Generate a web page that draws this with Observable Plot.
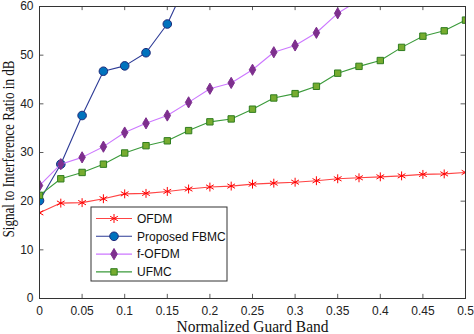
<!DOCTYPE html>
<html>
<head>
<meta charset="utf-8">
<script src="https://cdn.jsdelivr.net/npm/d3@7"></script>
<script src="https://cdn.jsdelivr.net/npm/@observablehq/plot@0.6"></script>
<style>
  html, body { margin: 0; padding: 0; background: #fff; }
  #chart svg { display: block; }
</style>
</head>
<body>
<div id="chart"></div>
<script>
const guardBand = [0, 0.025, 0.05, 0.075, 0.1, 0.125, 0.15, 0.175, 0.2, 0.225, 0.25,
                   0.275, 0.3, 0.325, 0.35, 0.375, 0.4, 0.425, 0.45, 0.475, 0.5];
const ofdm  = [17.6, 19.6, 19.7, 20.5, 21.5, 21.6, 22.0, 22.5, 22.9, 23.1, 23.5,
               23.7, 23.9, 24.2, 24.6, 24.8, 25.0, 25.2, 25.5, 25.6, 25.9];
const fbmc  = [20.1, 27.6, 37.6, 46.7, 47.8, 50.5, 56.4, 65.8];
const fofdm = [23.2, 27.6, 29.0, 31.2, 34.1, 36.0, 37.6, 40.3, 43.1, 44.3, 47.0,
               50.6, 52.0, 54.6, 58.6, 61.3];
const ufmc  = [21.2, 24.6, 25.9, 27.6, 29.9, 31.4, 32.4, 34.5, 36.3, 36.9, 38.9,
               41.2, 42.1, 43.6, 46.3, 47.7, 48.9, 51.6, 53.9, 55.0, 57.2];
const seriesNames = ["OFDM", "Proposed FBMC", "f-OFDM", "UFMC"];
const xTicks = [0, 0.05, 0.1, 0.15, 0.2, 0.25, 0.3, 0.35, 0.4, 0.45, 0.5];
const yTicks = [0, 10, 20, 30, 40, 50, 60];
const xLabel = "Normalized Guard Band";
const yLabel = "Signal to Interference Ratio in dB";

const styles = {
  "OFDM":          {line: "#ff4444", symbol: "asterisk", fill: "none",    stroke: "#ff0000", r: 4.2},
  "Proposed FBMC": {line: "#2d3b96", symbol: "circle",   fill: "#0072bd", stroke: "#1f2b7a", r: 4.3},
  "f-OFDM":        {line: "#cc77ff", symbol: "diamond",  fill: "#7e2f8e", stroke: "#7e2f8e", r: 3.4},
  "UFMC":          {line: "#3a9a3a", symbol: "square",   fill: "#77ac30", stroke: "#2f7d1f", r: 3.6}
};

const values = [ofdm, fbmc, fofdm, ufmc];
const rows = [];
seriesNames.forEach((name, i) => {
  values[i].forEach((v, j) => rows.push({series: name, x: guardBand[j], y: v}));
});

const serif = "Liberation Serif, Times New Roman, serif";
const marks = [];
// inward ticks (MATLAB box style)
marks.push(Plot.ruleY(yTicks, {y: d => d, x1: 0, x2: 0.0052, stroke: "#333", strokeWidth: 0.8}));
marks.push(Plot.ruleY(yTicks, {y: d => d, x1: 0.4948, x2: 0.5, stroke: "#333", strokeWidth: 0.8}));
marks.push(Plot.ruleX(xTicks, {x: d => d, y1: 0, y2: 0.85, stroke: "#333", strokeWidth: 0.8}));
marks.push(Plot.ruleX(xTicks, {x: d => d, y1: 59.15, y2: 60, stroke: "#333", strokeWidth: 0.8}));

for (const name of seriesNames) {
  const s = styles[name];
  const data = rows.filter(d => d.series === name);
  marks.push(Plot.line(data, {x: "x", y: "y", stroke: s.line, strokeWidth: 1.1, clip: true}));
  marks.push(Plot.dot(data, {x: "x", y: "y", symbol: () => s.symbol, r: s.r, fill: s.fill,
                             stroke: s.stroke, strokeWidth: 1, clip: true}));
}

marks.push(Plot.frame({stroke: "#333", strokeWidth: 1}));
marks.push(Plot.axisX(xTicks, {tickSize: 0, tickPadding: 8, fontSize: 12, fill: "#222",
  tickFormat: d => String(d), label: null}));
marks.push(Plot.axisY(yTicks, {tickSize: 0, tickPadding: 6, fontSize: 12, fill: "#222", label: null}));
marks.push(Plot.text([xLabel], {text: d => d, frameAnchor: "bottom", dy: 28, lineAnchor: "middle",
  textAnchor: "middle", fontFamily: serif, fontSize: 16, fill: "#111", className: "xlab"}));
marks.push(Plot.text([yLabel], {text: d => d, frameAnchor: "left", dx: -31, dy: -3.5, rotate: -90,
  textAnchor: "middle", lineAnchor: "middle", fontFamily: serif, fontSize: 16, fill: "#111", className: "ylab"}));

const chart = Plot.plot({
  width: 474,
  height: 334,
  marginLeft: 39,
  marginRight: 9,
  marginTop: 6,
  marginBottom: 36,
  style: {fontFamily: "Liberation Sans, Arial, sans-serif", background: "#fff"},
  x: {domain: [0, 0.5], axis: null},
  y: {domain: [0, 60], axis: null},
  symbol: {type: "identity"},
  marks
});

const svg = d3.select(chart);
// condensed axis titles as in the reference
svg.selectAll(".xlab text").attr("textLength", 152).attr("lengthAdjust", "spacingAndGlyphs");
svg.selectAll(".ylab text").attr("textLength", 177).attr("lengthAdjust", "spacingAndGlyphs");

// legend inside the plot box
const lg = svg.append("g").attr("transform", "translate(91,207)");
lg.append("rect").attr("width", 136).attr("height", 74)
  .attr("fill", "#fff").attr("stroke", "#333").attr("stroke-width", 1);
const symMap = {asterisk: d3.symbolAsterisk, circle: d3.symbolCircle, diamond: d3.symbolDiamond, square: d3.symbolSquare};
seriesNames.forEach((name, i) => {
  const s = styles[name];
  const y = 11.5 + i * 17.8;
  lg.append("line").attr("x1", 5).attr("x2", 41).attr("y1", y).attr("y2", y)
    .attr("stroke", s.line).attr("stroke-width", 1.1);
  lg.append("path").attr("transform", `translate(23,${y})`)
    .attr("d", d3.symbol(symMap[s.symbol], s.r * s.r * Math.PI)())
    .attr("fill", s.fill).attr("stroke", s.stroke).attr("stroke-width", 1);
  lg.append("text").attr("x", 46).attr("y", y).attr("dy", "0.35em")
    .attr("text-anchor", "start")
    .attr("font-size", 12).attr("fill", "#111").text(name);
});

document.getElementById("chart").appendChild(chart);
</script>
</body>
</html>
